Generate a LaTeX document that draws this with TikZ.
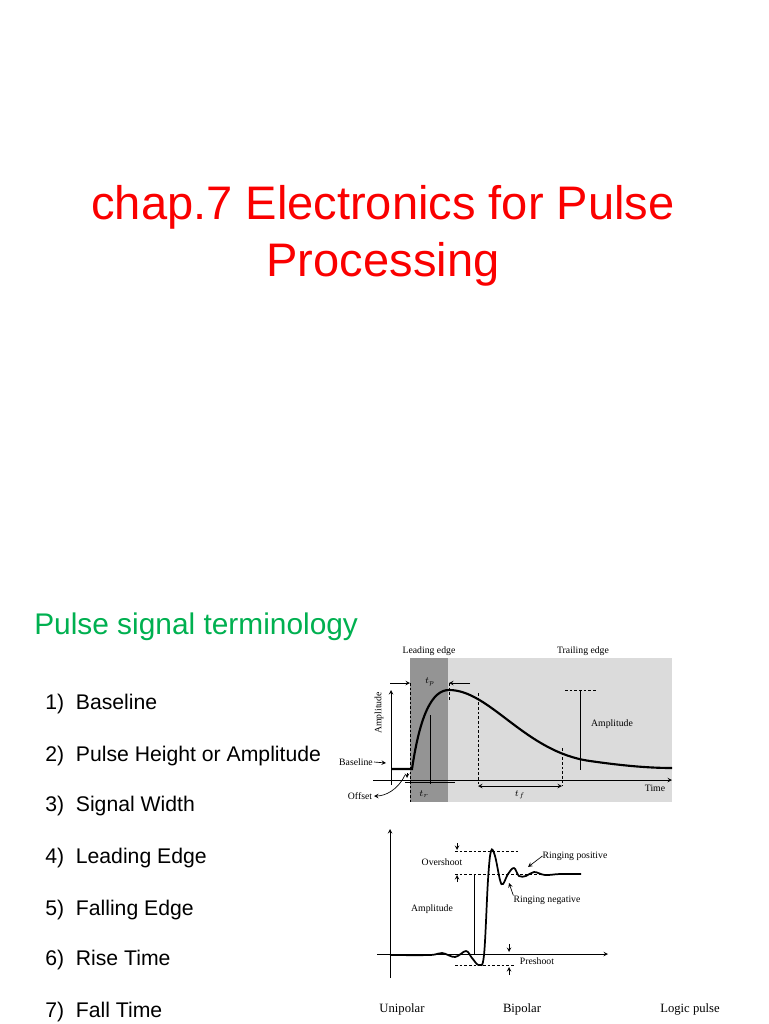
\documentclass[tikz,border=0pt]{standalone}
\usepackage{fontspec}
\setmainfont{Liberation Sans}
\newfontfamily\figfont{Liberation Serif}
\begin{document}
\begin{tikzpicture}[x=0.75pt,y=-0.75pt,
  fl/.style={font=\figfont\fontsize{7.3}{8}\selectfont,inner sep=0pt},
  li/.style={font=\fontsize{15.9}{18}\selectfont,anchor=west,inner sep=0pt},
  dsh/.style={dashed,line width=0.4pt,dash pattern=on 2pt off 1.5pt},
  thin/.style={line width=0.5pt},
  >=stealth]
\useasboundingbox (0,0) rectangle (768,1024);
\definecolor{tred}{RGB}{250,0,0}
\definecolor{tgreen}{RGB}{0,176,80}
\node[text=tred,font=\fontsize{35.3}{43}\selectfont,align=center] (title) at (383,236) {chap.7 Electronics for Pulse\\Processing};
\node[text=tgreen,font=\fontsize{22.4}{26}\selectfont,anchor=west,inner sep=0pt] (head) at (34,627) {Pulse signal terminology};
\node[li] (i1) at (45,704) {1)\ \ Baseline};
\node[li] (i2) at (45,756) {2)\ \ Pulse Height or Amplitude};
\node[li] (i3) at (45,806) {3)\ \ Signal Width};
\node[li] (i4) at (45,858) {4)\ \ Leading Edge};
\node[li] (i5) at (45,910) {5)\ \ Falling Edge};
\node[li] (i6) at (45,960) {6)\ \ Rise Time};
\node[li] (i7) at (45,1012) {7)\ \ Fall Time};
% figure 1
\fill[black!14] (410,658) rectangle (672,802);
\fill[black!42] (410,658) rectangle (448,802);
\draw[thin,->] (373,780) -- (672,780);
\draw[thin,->] (391,785) -- (391,690);
\draw[line width=1.6pt] (391,769) -- (412,769) .. controls (420,715) and (432,690) .. (449,690) .. controls (490,690) and (525,752) .. (590,761) .. controls (625,766) and (650,768) .. (672,768);
\draw[dsh] (410,683) -- (410,802);
\draw[dsh] (449,683) -- (449,700);
\draw[dsh] (478,693) -- (478,786);
\draw[dsh] (562,748) -- (562,786);
\draw[thin,<->] (478,786) -- (562,786);
\draw[thin] (430,715) -- (430,784);
\draw[thin] (405,782) -- (455,782);
\draw[thin,->] (390,683) -- (410,683);
\draw[thin,->] (470,683) -- (449,683);
\draw[dsh] (565,690) -- (597,690);
\draw[thin] (580,690) -- (580,770);
\draw[thin,->] (407,773) -- (407,778);
\node[fl] (lead) at (429,651) {Leading edge};
\node[fl] (trail) at (583,651) {Trailing edge};
\node[fl] (tp) at (430,682) {$t_p$};
\node[fl] (tr) at (424,794) {$t_r$};
\node[fl] (tf) at (520,795) {$t_f$};
\node[fl,rotate=90] (amp1) at (379,713) {Amplitude};
\node[fl] (amp2) at (612,724) {Amplitude};
\node[fl] (base) at (356,762) {Baseline};
\node[fl] (off) at (360,796) {Offset};
\node[fl] (time) at (655,788) {Time};
\draw[thin,->] (374,762) -- (386,763);
\draw[thin,->] (405,775) .. controls (398,790) and (385,796) .. (374,796);
% figure 2
\draw[thin,->] (390,978) -- (390,829);
\draw[thin,->] (377,954) -- (608,954);
\draw[line width=1.3pt] plot[smooth,tension=0.6] coordinates {(390,955) (430,955) (442,953) (455,957) (466,951) (472,958) (479,965) (484,955) (488,880) (491,851) (495,856) (500,880) (503,884) (508,874) (514,868) (519,876) (526,876) (534,872) (545,875) (560,874) (581,874)};
\draw[dsh] (455,851) -- (519,851);
\draw[dsh] (455,874) -- (581,874);
\draw[dsh] (455,965) -- (514,965);
\draw[thin] (474,874) -- (474,954);
\draw[thin,->] (457,843) -- (457,850);
\draw[thin,->] (457,882) -- (457,875);
\draw[thin,->] (509,944) -- (509,952);
\draw[thin,->] (509,975) -- (509,967);
\node[fl] (os) at (442,862) {Overshoot};
\node[fl] (am) at (432,909) {Amplitude};
\node[fl] (rp) at (575,856) {Ringing positive};
\node[fl] (rn) at (547,900) {Ringing negative};
\node[fl] (pre) at (537,961) {Preshoot};
\draw[thin,->] (rp.west) -- (528,867);
\draw[thin,->] (rn.north west) -- (509,883);
% bottom
\node[fl,font=\figfont\fontsize{9.5}{10}\selectfont] (uni) at (402,1009) {Unipolar};
\node[fl,font=\figfont\fontsize{9.5}{10}\selectfont] (bi) at (522,1009) {Bipolar};
\node[fl,font=\figfont\fontsize{9.5}{10}\selectfont] (lp) at (690,1009) {Logic pulse};
\end{tikzpicture}
\end{document}
